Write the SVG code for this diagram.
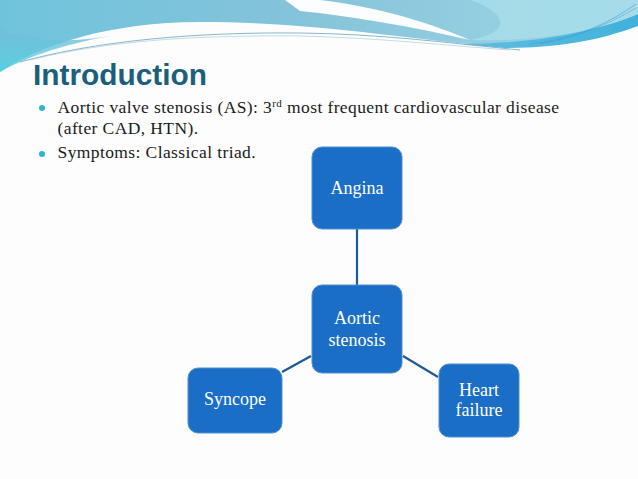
<svg xmlns="http://www.w3.org/2000/svg" width="638" height="479" viewBox="0 0 638 479">
<defs>
<linearGradient id="bandG" x1="0" y1="0" x2="1" y2="0">
<stop offset="0" stop-color="#6fc4dc"/>
<stop offset="0.45" stop-color="#84c3da"/>
<stop offset="1" stop-color="#9fd6e6"/>
</linearGradient>
<linearGradient id="tipG" x1="0" y1="0" x2="0" y2="1">
<stop offset="0" stop-color="#74bcd8"/>
<stop offset="1" stop-color="#55d2e2"/>
</linearGradient>
<linearGradient id="rightG" x1="0" y1="0" x2="1" y2="0">
<stop offset="0" stop-color="#60bde0"/>
<stop offset="1" stop-color="#40b2dc"/>
</linearGradient>
<style>
.node rect{fill:#1a6ec6;stroke:#4f8fd2;stroke-width:1}
.node text{fill:#ffffff;font-family:"Liberation Serif",serif;font-size:18px;text-anchor:middle}
.body{fill:#1a1a1a;font-family:"Liberation Serif",serif;font-size:17.5px;letter-spacing:0.4px}
.conn line{stroke:#1f5a96;stroke-width:2.2}
.bullet{fill:#2bb5cf}
</style>
</defs>
<rect width="638" height="479" fill="#fdfdfd"/>
<g id="header">
<path d="M0,0 H638 V24 C600,36 560,46 505,46 C430,44 330,22 200,22 C110,22 40,45 0,72 Z" fill="url(#bandG)"/>
<path d="M0,30 C30,40 60,44 110,36 C60,45 25,58 0,72 Z" fill="url(#tipG)" opacity="0.8"/>
<path d="M460,44 C540,44 600,30 638,14 V26 C600,40 560,48 505,48 Z" fill="url(#rightG)"/>
<path d="M470,0 H638 V14 C600,30 540,42 470,40 C520,30 500,10 470,0 Z" fill="#a6dde9" opacity="0.9"/>
<path d="M285,0 H320 C385,8 432,24 470,40 C410,26 350,16 300,11 Z" fill="#fbfdfe"/>
<path d="M20,62 C100,40 200,32 300,33 C380,34 440,42 520,50" fill="none" stroke="#6aa6bf" stroke-width="0.8"/>
<path d="M30,60 C110,40 200,35 300,36 C380,38 440,45 510,50" fill="none" stroke="#9cc7d6" stroke-width="0.6"/>
<path d="M530,44 C580,38 610,22 636,4" fill="none" stroke="#3f9fcc" stroke-width="0.6"/>
<path d="M540,44 C585,36 615,20 636,8" fill="none" stroke="#3f9fcc" stroke-width="0.5"/>
</g>
<text x="33" y="85" font-family="'Liberation Sans',sans-serif" font-weight="bold" font-size="30" fill="#1b5f7a" textLength="174" lengthAdjust="spacingAndGlyphs">Introduction</text>
<g id="bullets">
<circle class="bullet" cx="42" cy="108" r="3"/>
<circle class="bullet" cx="42" cy="154" r="3"/>
<text class="body" x="57.5" y="113">Aortic valve stenosis (AS): 3<tspan font-size="11" dy="-6">rd</tspan><tspan dy="6"> most frequent cardiovascular disease</tspan></text>
<text class="body" x="57.5" y="134">(after CAD, HTN).</text>
<text class="body" x="57.5" y="158">Symptoms: Classical triad.</text>
</g>
<g id="connectors" class="conn">
<line x1="357" y1="229" x2="357" y2="285"/>
<line x1="311" y1="356" x2="282" y2="372"/>
<line x1="403" y1="356" x2="438" y2="377"/>
</g>
<g id="angina" class="node">
<rect x="312" y="147" width="90" height="82" rx="10"/>
<text x="357" y="194">Angina</text>
</g>
<g id="aortic-stenosis" class="node">
<rect x="312" y="285" width="90" height="88" rx="10"/>
<text x="357" y="324">Aortic</text>
<text x="357" y="346">stenosis</text>
</g>
<g id="syncope" class="node">
<rect x="188" y="368" width="94" height="65" rx="10"/>
<text x="235" y="405">Syncope</text>
</g>
<g id="heart-failure" class="node">
<rect x="439" y="364" width="80" height="73" rx="10"/>
<text x="479" y="396">Heart</text>
<text x="479" y="416">failure</text>
</g>
</svg>
